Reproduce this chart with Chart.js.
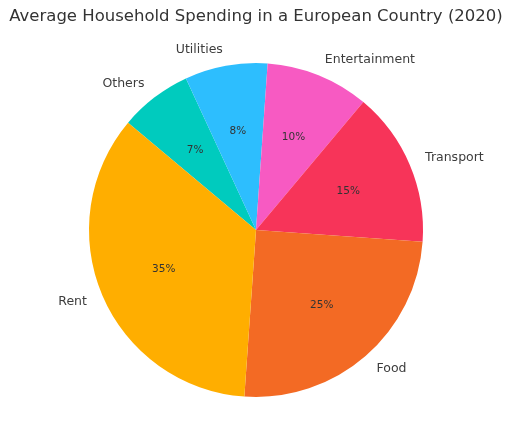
<!DOCTYPE html>
<html><head><meta charset="utf-8">
<script src="https://cdn.jsdelivr.net/npm/chart.js@4/dist/chart.umd.min.js"></script>
<style>html,body{margin:0;padding:0;background:#fff;}#wrap{width:512px;height:440px;}</style>
</head><body><div id="wrap"><canvas id="c" width="512" height="440"></canvas></div>
<script>
const categories = ["Rent", "Food", "Transport", "Entertainment", "Utilities", "Others"];
const values = [35, 25, 15, 10, 8, 7];
const colors = ["#FFAE00", "#F36A24", "#F73459", "#F75AC2", "#2DBEFE", "#00CBBE"];
const titleText = "Average Household Spending in a European Country (2020)";

// Chart.js draws clockwise; reference runs counter-clockwise, so reverse order.
const order = categories.map((_, i) => i).reverse();
const labelsCW = order.map(i => categories[i]);
const valuesCW = order.map(i => values[i]);
const colorsCW = order.map(i => colors[i]);

const FONT = "'DejaVu Sans', sans-serif";

const textPlugin = {
  id: 'pieText',
  afterDraw(chart) {
    const ctx = chart.ctx;
    ctx.save();
    ctx.fillStyle = '#333333';
    ctx.font = '16.5px ' + FONT;
    ctx.textAlign = 'center';
    ctx.textBaseline = 'middle';
    ctx.fillText(titleText, 256, 16.5);
    const meta = chart.getDatasetMeta(0);
    const total = valuesCW.reduce((a, b) => a + b, 0);
    meta.data.forEach((arc, i) => {
      const p = arc.getProps(['x', 'y', 'startAngle', 'endAngle', 'outerRadius'], true);
      const mid = (p.startAngle + p.endAngle) / 2;
      const cx = Math.cos(mid), cy = Math.sin(mid);
      const r = p.outerRadius;
      // outer label
      ctx.font = '12.5px ' + FONT;
      ctx.fillStyle = '#3d3d3d';
      ctx.textAlign = cx > 0 ? 'left' : 'right';
      ctx.textBaseline = 'middle';
      ctx.fillText(labelsCW[i], p.x + cx * r * 1.1, p.y + cy * r * 1.1);
      // percent label
      ctx.font = '10.5px ' + FONT;
      ctx.fillStyle = '#333333';
      ctx.textAlign = 'center';
      const pct = (valuesCW[i] / total * 100).toFixed(0) + '%';
      ctx.fillText(pct, p.x + cx * r * 0.6, p.y + cy * r * 0.6);
    });
    ctx.restore();
  }
};

new Chart(document.getElementById('c'), {
  type: 'pie',
  data: {
    labels: labelsCW,
    datasets: [{ data: valuesCW, backgroundColor: colorsCW, borderWidth: 0 }]
  },
  options: {
    responsive: false,
    animation: false,
    rotation: -50,
    layout: { padding: { left: 89, right: 89, top: 63, bottom: 43 } },
    plugins: { legend: { display: false }, tooltip: { enabled: false }, title: { display: false } }
  },
  plugins: [textPlugin]
});
</script></body></html>
